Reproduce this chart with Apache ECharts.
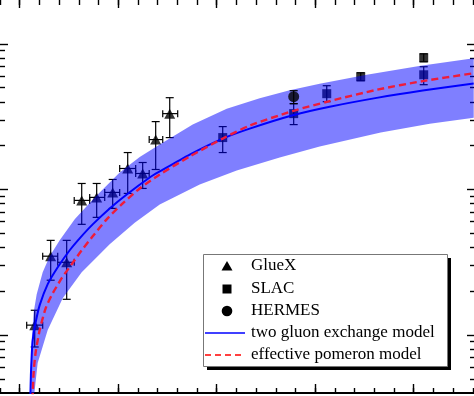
<!DOCTYPE html>
<html><head><meta charset="utf-8">
<script src="https://cdn.jsdelivr.net/npm/echarts@6/dist/echarts.min.js"></script>
<style>html,body{margin:0;padding:0;background:#fff}#c{width:474px;height:396px}</style>
</head><body><div id="c"></div>
<script>
// ---- GlueX (triangles) ----
const gluexE     = [8.305, 8.629, 8.954, 9.259, 9.563, 9.888, 10.193, 10.497, 10.761, 11.046];
const gluexEmin  = [8.142, 8.467, 8.772, 9.107, 9.421, 9.726, 10.030, 10.355, 10.629, 10.904];
const gluexEmax  = [8.467, 8.772, 9.107, 9.421, 9.726, 10.030, 10.355, 10.629, 10.904, 11.208];
const gluexSigma = [0.117, 0.348, 0.316, 0.841, 0.882, 0.954, 1.393, 1.287, 2.200, 3.316];
const gluexLow   = [0.0828, 0.238, 0.176, 0.576, 0.643, 0.741, 0.939, 1.016, 1.371, 2.271];
const gluexHigh  = [0.148, 0.447, 0.447, 1.099, 1.099, 1.171, 1.792, 1.531, 2.923, 4.267];
// ---- SLAC (squares) ----
const slacE     = [12.122, 13.563, 14.234, 14.924, 16.203, 16.203];
const slacSigma = [2.271, 3.316, 4.545, 5.94, 8.02, 6.13];
const slacLow   = [1.792, 2.788, 4.006, 5.58, 7.53, 5.24];
const slacHigh  = [2.701, 3.882, 5.157, 6.33, 8.54, 6.96];
// ---- HERMES (circle) ----
const hermesE     = [13.563];
const hermesSigma = [4.335];
const hermesLow   = [3.882];
const hermesHigh  = [4.766];
// ---- two gluon exchange model (blue) ----
const twoGluonE     = [8.215, 8.227, 8.244, 8.264, 8.325, 8.406, 8.569, 8.772, 9.015, 9.218, 9.482, 9.827, 10.173, 10.640, 10.843, 11.452, 12.122, 12.670, 13.563, 14.294, 15.249, 16.183, 17.218];
const twoGluonSigma = [0.0359, 0.0532, 0.0729, 0.0924, 0.1227, 0.1605, 0.2236, 0.2922, 0.3822, 0.4617, 0.5757, 0.7410, 0.9242, 1.2085, 1.3285, 1.7370, 2.2353, 2.6166, 3.2433, 3.6969, 4.2540, 4.7806, 5.3464];
// ---- effective pomeron model (red dashed) ----
const pomeronE     = [8.260, 8.284, 8.325, 8.406, 8.528, 8.650, 8.853, 9.056, 9.259, 9.482, 9.766, 10.091, 10.437, 10.843, 11.452, 12.122, 12.670, 13.543, 14.294, 15.249, 16.183, 17.218];
const pomeronSigma = [0.0359, 0.0558, 0.0765, 0.1082, 0.1531, 0.1879, 0.2457, 0.3064, 0.3822, 0.4767, 0.6231, 0.8019, 1.0159, 1.2668, 1.6830, 2.2353, 2.7437, 3.4544, 4.0449, 4.8338, 5.5439, 6.2806];
// ---- uncertainty band ----
const bandUpperE     = [8.213, 8.234, 8.250, 8.284, 8.345, 8.467, 8.609, 8.812, 9.117, 9.523, 10.030, 10.437, 10.843, 11.513, 12.203, 12.873, 13.482, 14.091, 15.046, 16.142, 17.218];
const bandUpperSigma = [0.0359, 0.0765, 0.1000, 0.1437, 0.1909, 0.2701, 0.3477, 0.4473, 0.6231, 0.8816, 1.3074, 1.6699, 2.0334, 2.7875, 3.5872, 4.2341, 4.8034, 5.3211, 6.1344, 7.0690, 7.9560];
const bandLowerE     = [8.284, 8.305, 8.365, 8.569, 8.873, 9.259, 9.827, 10.335, 10.843, 11.655, 12.406, 13.279, 14.091, 15.330, 16.325, 17.218];
const bandLowerSigma = [0.0359, 0.0420, 0.0643, 0.1082, 0.1792, 0.2701, 0.4200, 0.5896, 0.7893, 1.0820, 1.3494, 1.6562, 1.9704, 2.4566, 2.8233, 3.1121];
// ---- axis ticks ----
const xMajorTicks = [8, 10, 12, 14, 16];
const yMajorTicks = [0.1, 1, 10];
const yMinorTicks = [0.05, 0.06, 0.07, 0.08, 0.09, 0.2, 0.3, 0.4, 0.5, 0.6, 0.7, 0.8, 0.9, 2, 3, 4, 5, 6, 7, 8, 9];
const legendNames = ['GlueX', 'SLAC', 'HERMES', 'two gluon exchange model', 'effective pomeron model'];

const X_MIN = 7.6, X_MAX = 17.224, Y_MIN = 0.04, Y_MAX = 20;
const zip = (a, b) => a.map((v, i) => [v, b[i]]);

function errRender(params, api) {
  const x = api.value(0), lo = api.value(2), hi = api.value(3), x0 = api.value(4), x1 = api.value(5), y = api.value(1);
  const pt = api.coord([x, hi]), pb = api.coord([x, lo]);
  const st = {stroke: '#000', lineWidth: 1.2};
  const cap = 4;
  const ch = [
    {type: 'line', shape: {x1: pt[0], y1: pt[1], x2: pb[0], y2: pb[1]}, style: st},
    {type: 'line', shape: {x1: pt[0] - cap, y1: pt[1], x2: pt[0] + cap, y2: pt[1]}, style: st},
    {type: 'line', shape: {x1: pb[0] - cap, y1: pb[1], x2: pb[0] + cap, y2: pb[1]}, style: st}
  ];
  if (!isNaN(x0) && !isNaN(x1)) {
    const pl = api.coord([x0, y]), pr = api.coord([x1, y]);
    ch.push({type: 'line', shape: {x1: pl[0], y1: pl[1], x2: pr[0], y2: pr[1]}, style: st});
    ch.push({type: 'line', shape: {x1: pl[0], y1: pl[1] - 3.5, x2: pl[0], y2: pl[1] + 3.5}, style: st});
    ch.push({type: 'line', shape: {x1: pr[0], y1: pr[1] - 3.5, x2: pr[0], y2: pr[1] + 3.5}, style: st});
  }
  return {type: 'group', children: ch};
}

function bandRender(params, api) {
  const pts = [];
  for (let i = 0; i < bandUpperE.length; i++) pts.push(api.coord([bandUpperE[i], bandUpperSigma[i]]));
  for (let i = bandLowerE.length - 1; i >= 0; i--) pts.push(api.coord([bandLowerE[i], bandLowerSigma[i]]));
  return {type: 'polygon', shape: {points: pts, smooth: 0}, style: {fill: 'rgba(0,0,255,0.5)'}};
}

const tickStyle = {color: '#000', width: 1.4};
function xAx(pos, major, len, showLine) {
  const a = {type: 'value', position: pos, min: X_MIN, max: X_MAX,
    axisLine: {show: showLine, onZero: false, lineStyle: {color: '#000', width: 2}},
    axisTick: {show: true, inside: true, length: len, lineStyle: tickStyle},
    axisLabel: {show: false}, splitLine: {show: false}};
  if (major) a.axisTick.customValues = xMajorTicks; else a.interval = 0.4;
  return a;
}
function yAx(pos, vals, len) {
  return {type: 'log', logBase: 10, position: pos, min: Y_MIN, max: Y_MAX,
    axisLine: {show: false, onZero: false},
    axisTick: {show: true, inside: true, length: len, customValues: vals, lineStyle: tickStyle},
    axisLabel: {show: false}, splitLine: {show: false}, minorTick: {show: false}};
}

const chart = echarts.init(document.getElementById('c'), null, {renderer: 'canvas'});
const font = '17px "Liberation Serif", "Times New Roman", serif';
const lx = 227, tx = 251, rows = [266, 289, 311, 333, 355];
chart.setOption({
  animation: false,
  backgroundColor: '#fff',
  grid: {left: 0, right: 0, top: -1, bottom: 3, containLabel: false},
  xAxis: [xAx('bottom', true, 9, true), xAx('bottom', false, 5, false), xAx('top', true, 8, false), xAx('top', false, 5, false)],
  yAxis: [yAx('left', yMajorTicks, 8), yAx('left', yMinorTicks, 5), yAx('right', yMajorTicks, 7), yAx('right', yMinorTicks, 4)],
  series: [
    {name: 'GlueX err', type: 'custom', z: 1, renderItem: errRender, clip: true,
     data: gluexE.map((e, i) => [e, gluexSigma[i], gluexLow[i], gluexHigh[i], gluexEmin[i], gluexEmax[i]]), encode: {x: 0, y: 1}},
    {name: 'SLAC err', type: 'custom', z: 1, renderItem: errRender, clip: true,
     data: slacE.map((e, i) => [e, slacSigma[i], slacLow[i], slacHigh[i], NaN, NaN]), encode: {x: 0, y: 1}},
    {name: legendNames[0], type: 'scatter', z: 2, symbol: 'triangle', symbolSize: [11, 10], itemStyle: {color: '#000'}, data: zip(gluexE, gluexSigma)},
    {name: legendNames[1], type: 'scatter', z: 2, symbol: 'rect', symbolSize: 9, itemStyle: {color: '#000'}, data: zip(slacE, slacSigma)},
    {name: 'band', type: 'custom', z: 3, renderItem: bandRender, clip: true, data: [[bandUpperE[0], bandUpperSigma[0]]], encode: {x: 0, y: 1}, silent: true},
    {name: 'HERMES err', type: 'custom', z: 4, renderItem: errRender, clip: true,
     data: hermesE.map((e, i) => [e, hermesSigma[i], hermesLow[i], hermesHigh[i], NaN, NaN]), encode: {x: 0, y: 1}},
    {name: legendNames[2], type: 'scatter', z: 4, symbol: 'circle', symbolSize: 11, itemStyle: {color: '#000'}, data: zip(hermesE, hermesSigma)},
    {name: legendNames[3], type: 'line', z: 5, showSymbol: false, smooth: 0.25, clip: true,
     lineStyle: {color: '#0000ff', width: 2}, data: zip(twoGluonE, twoGluonSigma)},
    {name: legendNames[4], type: 'line', z: 6, showSymbol: false, smooth: 0.25, clip: true,
     lineStyle: {color: '#ee1c3a', width: 2.4, type: [7, 4]}, data: zip(pomeronE, pomeronSigma)}
  ],
  graphic: [
    {type: 'rect', z: 100, shape: {x: 207, y: 258, width: 244, height: 112}, style: {fill: '#000'}},
    {type: 'rect', z: 101, shape: {x: 203.5, y: 254.5, width: 244, height: 112}, style: {fill: '#fff', stroke: '#777', lineWidth: 1}},
    {type: 'polygon', z: 102, shape: {points: [[lx, rows[0] - 5], [lx - 5.5, rows[0] + 4.5], [lx + 5.5, rows[0] + 4.5]]}, style: {fill: '#000'}},
    {type: 'rect', z: 102, shape: {x: lx - 4.5, y: rows[1] - 4.5, width: 9, height: 9}, style: {fill: '#000'}},
    {type: 'circle', z: 102, shape: {cx: lx, cy: rows[2], r: 5.3}, style: {fill: '#000'}},
    {type: 'line', z: 102, shape: {x1: 205, y1: rows[3], x2: 245, y2: rows[3]}, style: {stroke: '#0000ff', lineWidth: 1.5}},
    {type: 'line', z: 102, shape: {x1: 205, y1: rows[4], x2: 245, y2: rows[4]}, style: {stroke: '#ff0000', lineWidth: 1.5, lineDash: [6, 4]}},
    ...legendNames.map((t, i) => ({type: 'text', z: 102, x: tx, y: rows[i], style: {text: t, font: font, fill: '#000', align: 'left', verticalAlign: 'middle'}}))
  ]
});
</script></body></html>
